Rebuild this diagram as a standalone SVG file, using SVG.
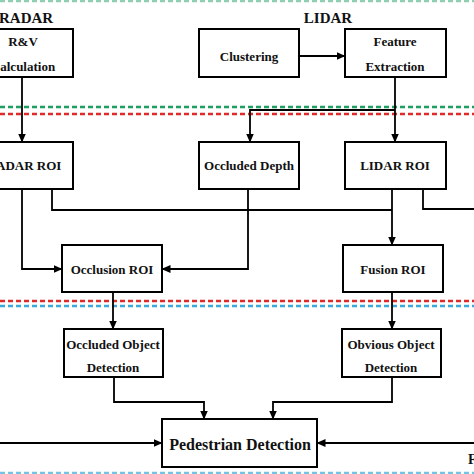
<svg xmlns="http://www.w3.org/2000/svg" width="474" height="474" viewBox="0 0 474 474">
<defs>
<marker id="ah" markerWidth="9" markerHeight="8" refX="8.5" refY="4" orient="auto" markerUnits="userSpaceOnUse">
<path d="M0,0 L9,4 L0,8 Z" fill="#000"/>
</marker>
<style>
.box{fill:#fff;stroke:#000;stroke-width:2}
.t{font-family:"Liberation Serif","Times New Roman",serif;font-weight:bold;font-size:13px;text-anchor:middle;fill:#111}
.h{font-family:"Liberation Serif","Times New Roman",serif;font-weight:bold;font-size:15px;fill:#111}
.c{fill:none;stroke:#000;stroke-width:1.8}
.a{marker-end:url(#ah)}
.dg{stroke:#1f9e62;stroke-width:2.5;stroke-dasharray:5 3;fill:none}
.dr{stroke:#e02a2a;stroke-width:2.5;stroke-dasharray:5 3;fill:none}
.db{stroke:#3aaad8;stroke-width:2.5;stroke-dasharray:5 3;fill:none}
</style>
</defs>
<rect width="474" height="474" fill="#fff"/>
<g id="separators">
<line class="dg" x1="0" y1="1" x2="474" y2="1" opacity="0.5"/>
<line class="dg" x1="0" y1="107" x2="474" y2="107"/>
<line class="dr" x1="0" y1="114" x2="474" y2="114"/>
<line class="dr" x1="0" y1="301" x2="474" y2="301"/>
<line class="db" x1="0" y1="306" x2="474" y2="306"/>
<line class="db" x1="0" y1="473" x2="474" y2="473" opacity="0.7"/>
</g>
<g id="labels">
<text class="h" x="-1" y="23">RADAR</text>
<text class="h" x="328" y="23" text-anchor="middle">LIDAR</text>
<text class="h" x="468" y="464" style="font-size:14px">F</text>
</g>
<g id="connectors">
<path class="c a" d="M22,77 V142"/>
<path class="c a" d="M299,56 H345"/>
<path class="c a" d="M395,77 V142"/>
<path class="c a" d="M395,110 H250 V142"/>
<path class="c a" d="M22,189 V269 H62"/>
<path class="c" d="M52,189 V210 H392"/>
<path class="c a" d="M392,189 V245"/>
<path class="c a" d="M248,189 V269 H162"/>
<path class="c" d="M423,189 V209 H474"/>
<path class="c a" d="M113,292 V329"/>
<path class="c a" d="M392,292 V329"/>
<path class="c a" d="M114,377 V402 H204 V419"/>
<path class="c a" d="M392,377 V402 H273 V419"/>
<path class="c a" d="M0,443 H162"/>
<path class="c a" d="M474,443 H317"/>
</g>
<g id="rv-calculation">
<rect class="box" x="-28" y="29" width="101" height="48"/>
<text class="t" x="23" y="46">R&amp;V</text>
<text class="t" x="23" y="71">Calculation</text>
</g>
<g id="clustering">
<rect class="box" x="199" y="29" width="100" height="48"/>
<text class="t" x="249" y="61">Clustering</text>
</g>
<g id="feature-extraction">
<rect class="box" x="345" y="29" width="101" height="48"/>
<text class="t" x="395" y="46">Feature</text>
<text class="t" x="395" y="71">Extraction</text>
</g>
<g id="radar-roi">
<rect class="box" x="-28" y="142" width="101" height="47"/>
<text class="t" x="24" y="170">RADAR ROI</text>
</g>
<g id="occluded-depth">
<rect class="box" x="199" y="142" width="100" height="47"/>
<text class="t" x="249" y="170">Occluded Depth</text>
</g>
<g id="lidar-roi">
<rect class="box" x="345" y="142" width="101" height="47"/>
<text class="t" x="395" y="170">LIDAR ROI</text>
</g>
<g id="occlusion-roi">
<rect class="box" x="62" y="245" width="100" height="47"/>
<text class="t" x="112" y="274">Occlusion ROI</text>
</g>
<g id="fusion-roi">
<rect class="box" x="343" y="245" width="100" height="47"/>
<text class="t" x="393" y="274">Fusion ROI</text>
</g>
<g id="occluded-object-detection">
<rect class="box" x="64" y="329" width="99" height="48"/>
<text class="t" x="113" y="349">Occluded Object</text>
<text class="t" x="113" y="372">Detection</text>
</g>
<g id="obvious-object-detection">
<rect class="box" x="342" y="329" width="99" height="48"/>
<text class="t" x="391" y="349">Obvious Object</text>
<text class="t" x="391" y="372">Detection</text>
</g>
<g id="pedestrian-detection">
<rect class="box" x="162" y="419" width="155" height="48"/>
<text class="t" x="240" y="450" style="font-size:16px">Pedestrian Detection</text>
</g>
</svg>
